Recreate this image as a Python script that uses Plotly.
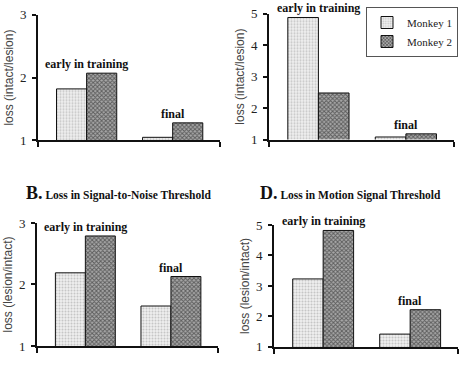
import plotly.graph_objects as go

W, H = 474, 377

categories = ["early in training", "final"]
cat_labels = ["early in training", "final"]
series_names = ["Monkey 1", "Monkey 2"]

# panel A (top-left): loss intact/lesion
a_m1 = [1.82, 1.05]
a_m2 = [2.07, 1.28]
# panel C (top-right)
c_m1 = [4.88, 1.08]
c_m2 = [2.48, 1.18]
# panel B (bottom-left): signal-to-noise threshold
b_m1 = [2.19, 1.65]
b_m2 = [2.79, 2.13]
# panel D (bottom-right): motion signal threshold
d_m1 = [3.23, 1.42]
d_m2 = [4.82, 2.22]

ytitles = ["loss (intact/lesion)", "loss (intact/lesion)", "loss (lesion/intact)", "loss (lesion/intact)"]
ymaxes = [3, 5, 3, 5]
titles = [None, None, ("B.", "Loss in Signal-to-Noise Threshold"), ("D.", "Loss in Motion Signal Threshold")]

# pixel layout: (yaxis x, xaxis end, top tick y, baseline y)
panels = [
    (38, 220, 8, 139, a_m1, a_m2),
    (269, 454, 7, 138, c_m1, c_m2),
    (37, 218, 225, 353, b_m1, b_m2),
    (274, 458, 227, 354, d_m1, d_m2),
]

SERIF = "Liberation Serif"
SANS = "Liberation Sans"

styles = [
    dict(color="#e2e2e2", pattern=dict(shape=".", fgcolor="#9a9a9a", bgcolor="#f0f0f0", size=3, solidity=0.4)),
    dict(color="#5e5e5e", pattern=dict(shape="x", fgcolor="#141414", bgcolor="#a8a8a8", size=3, solidity=0.55)),
]

fig = go.Figure()
xs = list(range(len(categories)))
layout = {}
annotations = []
XR = [-0.565, 1.55]

for i, (x0, x1, ytop, ybase, m1, m2) in enumerate(panels):
    ax = "" if i == 0 else str(i + 1)
    xa, ya = "x" + ax, "y" + ax
    for s, (vals, name) in enumerate(zip([m1, m2], series_names)):
        fig.add_trace(go.Bar(
            x=xs, y=vals, name=name, xaxis=xa, yaxis=ya,
            marker=dict(color=styles[s]["color"], pattern=styles[s]["pattern"],
                        line=dict(color="#111111", width=1)),
            showlegend=(i == 1), legendgroup=name,
        ))
    layout["xaxis" + ax] = dict(
        domain=[x0 / W, x1 / W], anchor=ya, range=XR,
        tickmode="array", tickvals=XR, ticktext=["", ""], ticks="outside", ticklen=5,
        tickwidth=1.5, tickcolor="#111",
        showline=True, linecolor="#111", linewidth=2, showgrid=False, zeroline=False,
        fixedrange=True,
    )
    layout["yaxis" + ax] = dict(
        domain=[1 - ybase / H, 1 - ytop / H], anchor=xa, range=[1, ymaxes[i]],
        tickmode="linear", tick0=1, dtick=1, ticks="outside", ticklen=4, tickwidth=1.5,
        tickcolor="#111", showline=True, linecolor="#111", linewidth=2, showgrid=False,
        zeroline=False, tickfont=dict(family=SERIF, size=13, color="#222"),
        ticklabelstandoff=3,
        title=dict(text=ytitles[i], font=dict(family=SANS, size=12, color="#444"), standoff=4),
    )
    for k, lab in enumerate(cat_labels):
        annotations.append(dict(
            x=xs[k], y=max(m1[k], m2[k]), xref=xa, yref=ya, text="<b>%s</b>" % lab,
            showarrow=False, yanchor="bottom", xanchor="center", yshift=0,
            font=dict(family=SERIF, size=12, color="#111"),
        ))
    if titles[i]:
        letter, t = titles[i]
        tx = 24 if i == 2 else 258
        annotations.append(dict(
            x=tx / W, y=1 - 194 / H, xref="paper", yref="paper", xanchor="left", yanchor="middle",
            text="<b><span style='font-size:18px'>%s</span> %s</b>" % (letter, t),
            showarrow=False, font=dict(family=SERIF, size=11.5, color="#111"),
        ))

fig.update_layout(**layout)
fig.update_layout(
    width=W, height=H, margin=dict(l=0, r=0, t=0, b=0),
    paper_bgcolor="white", plot_bgcolor="white",
    barmode="group", bargap=0.3, bargroupgap=0,
    annotations=annotations,
    legend=dict(x=458 / W, y=1.0, xanchor="right", yanchor="top",
                bgcolor="white", bordercolor="#555", borderwidth=1,
                font=dict(family=SERIF, size=11, color="#222"),
                tracegroupgap=0, itemwidth=30),
)

fig.write_html("out.html", config={"displayModeBar": False},
               post_script="document.body.style.margin='0';document.body.style.overflow='hidden';")
